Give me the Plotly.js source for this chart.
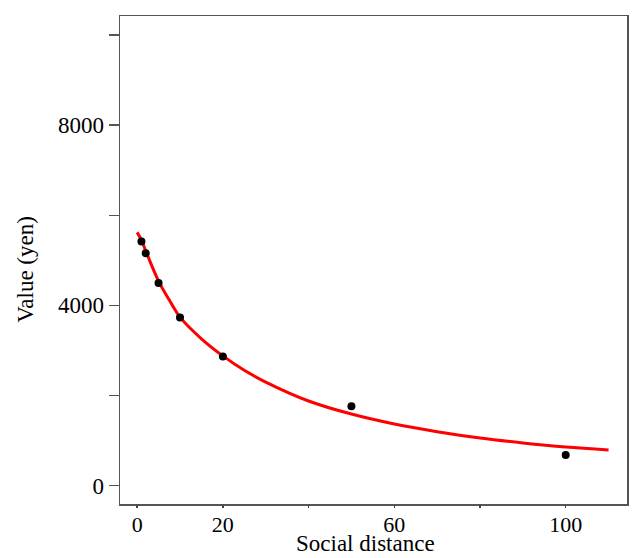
<!DOCTYPE html>
<html>
<head>
<meta charset="utf-8">
<script src="https://cdn.plot.ly/plotly-3.0.1.min.js"></script>
<style>html,body{margin:0;padding:0;background:#fff;}#chart{width:640px;height:558px;}</style>
</head>
<body>
<div id="chart"></div>
<script>
// Observed data points
const distance = [1, 2, 5, 10, 20, 50, 100];
const valueYen = [5420, 5160, 4500, 3730, 2866, 1761, 680];

// Fitted curve
const curveDistance = [0, 1, 2, 5, 8, 10, 15, 20, 25, 30, 40, 50, 60, 70, 80, 90, 100, 110];
const curveValue = [5620, 5450, 5210, 4540, 4040, 3740, 3260, 2880, 2560, 2300, 1880, 1590, 1370, 1200, 1060, 950, 860, 795];

// Axis ticks
const xTickVals = [0, 20, 40, 60, 80, 100];
const xTickText = ['0', '20', '', '60', '', '100'];
const yTickVals = [0, 2000, 4000, 6000, 8000, 10000];
const yTickText = ['0', '', '4000', '', '8000', ''];

const xTitle = 'Social distance';
const yTitle = 'Value (yen)';

const font = {family: 'Liberation Serif, Times New Roman, serif', size: 23, color: '#000'};
const tickFont = {family: 'Liberation Serif, Times New Roman, serif', size: 22, color: '#000'};

const traces = [
  {x: curveDistance, y: curveValue, mode: 'lines', line: {color: '#ff0000', width: 3, shape: 'spline'}, hoverinfo: 'skip'},
  {x: distance, y: valueYen, xaxis: 'x2', mode: 'markers', marker: {color: '#000', size: 8}}
];

const xRange = [-4.0, 114.3];

const layout = {
  width: 640, height: 558,
  margin: {l: 120, r: 13, t: 16, b: 54},
  paper_bgcolor: '#fff', plot_bgcolor: '#fff',
  showlegend: false,
  font: font,
  xaxis: {
    range: xRange, tickmode: 'array', tickvals: xTickVals, ticktext: xTickText,
    ticks: '', showgrid: false, zeroline: false, showline: true, linecolor: '#555', linewidth: 1.5, mirror: true,
    tickfont: tickFont
  },
  xaxis2: {
    overlaying: 'x', matches: 'x', range: xRange, side: 'bottom',
    tickmode: 'array', tickvals: xTickVals, showticklabels: false,
    ticks: 'outside', ticklen: 3, tickcolor: '#444', tickwidth: 1.5,
    showgrid: false, zeroline: false, showline: false
  },
  yaxis: {
    range: [-405, 10420], tickmode: 'array', tickvals: yTickVals, ticktext: yTickText,
    ticks: 'outside', ticklen: 10, tickcolor: '#555', tickwidth: 1.5,
    showgrid: false, zeroline: false, showline: true, linecolor: '#555', linewidth: 1.5, mirror: true,
    tickfont: font
  },
  annotations: [
    {text: xTitle, xref: 'paper', yref: 'paper', x: 0.484, y: -0.08, xanchor: 'center', yanchor: 'middle', showarrow: false, font: font},
    {text: yTitle, xref: 'paper', yref: 'paper', x: -0.1854, y: 0.48, xanchor: 'center', yanchor: 'middle', textangle: -90, showarrow: false, font: font}
  ]
};

Plotly.newPlot('chart', traces, layout, {displayModeBar: false, staticPlot: true});
</script>
</body>
</html>
